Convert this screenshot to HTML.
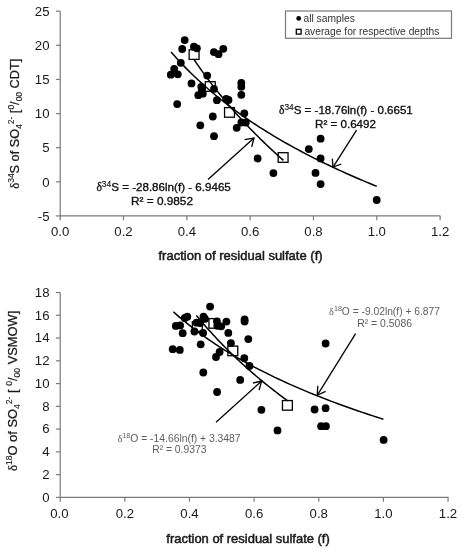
<!DOCTYPE html>
<html><head><meta charset="utf-8"><title>Sulfate isotope fractionation</title><style>
html,body{margin:0;padding:0;background:#fff;}
svg{display:block;}
text{font-family:"Liberation Sans",Arial,sans-serif;}
.tk{font-size:13.2px;fill:#1a1a1a;}
.ttl{font-size:12.6px;fill:#1a1a1a;stroke:#1a1a1a;stroke-width:0.5px;}
.yt{font-size:12.9px;fill:#1a1a1a;stroke:#1a1a1a;stroke-width:0.25px;}
.fit{fill:none;stroke:#000;stroke-width:1.5;}
.ar{fill:none;stroke:#000;stroke-width:1.3;}
.lg{font-size:10.25px;fill:#333;}
.eqt{font-size:11.5px;fill:#111;stroke:#111;stroke-width:0.35px;}
.eqb{font-size:10.35px;fill:#5e5e5e;}
.dl{font-family:"Liberation Serif",serif;}
</style></head><body>
<svg width="464" height="550" viewBox="0 0 464 550">
<rect width="464" height="550" fill="#fff"/>
<path d="M60.2,11.2 V215.9 H440.5" fill="none" stroke="#7a7a7a" stroke-width="1.2"/>
<path d="M55.9,11.20 H60.2" stroke="#7a7a7a" stroke-width="1.2"/>
<text x="49.5" y="15.95" text-anchor="end" class="tk">25</text>
<path d="M55.9,45.32 H60.2" stroke="#7a7a7a" stroke-width="1.2"/>
<text x="49.5" y="50.07" text-anchor="end" class="tk">20</text>
<path d="M55.9,79.44 H60.2" stroke="#7a7a7a" stroke-width="1.2"/>
<text x="49.5" y="84.19" text-anchor="end" class="tk">15</text>
<path d="M55.9,113.56 H60.2" stroke="#7a7a7a" stroke-width="1.2"/>
<text x="49.5" y="118.31" text-anchor="end" class="tk">10</text>
<path d="M55.9,147.68 H60.2" stroke="#7a7a7a" stroke-width="1.2"/>
<text x="49.5" y="152.43" text-anchor="end" class="tk">5</text>
<path d="M55.9,181.80 H60.2" stroke="#7a7a7a" stroke-width="1.2"/>
<text x="49.5" y="186.55" text-anchor="end" class="tk">0</text>
<path d="M55.9,215.92 H60.2" stroke="#7a7a7a" stroke-width="1.2"/>
<text x="49.5" y="220.67" text-anchor="end" class="tk">-5</text>
<path d="M60.20,215.9 V220.2" stroke="#7a7a7a" stroke-width="1.2"/>
<text x="60.20" y="236.2" text-anchor="middle" class="tk">0.0</text>
<path d="M123.52,215.9 V220.2" stroke="#7a7a7a" stroke-width="1.2"/>
<text x="123.52" y="236.2" text-anchor="middle" class="tk">0.2</text>
<path d="M186.84,215.9 V220.2" stroke="#7a7a7a" stroke-width="1.2"/>
<text x="186.84" y="236.2" text-anchor="middle" class="tk">0.4</text>
<path d="M250.16,215.9 V220.2" stroke="#7a7a7a" stroke-width="1.2"/>
<text x="250.16" y="236.2" text-anchor="middle" class="tk">0.6</text>
<path d="M313.48,215.9 V220.2" stroke="#7a7a7a" stroke-width="1.2"/>
<text x="313.48" y="236.2" text-anchor="middle" class="tk">0.8</text>
<path d="M376.80,215.9 V220.2" stroke="#7a7a7a" stroke-width="1.2"/>
<text x="376.80" y="236.2" text-anchor="middle" class="tk">1.0</text>
<path d="M440.12,215.9 V220.2" stroke="#7a7a7a" stroke-width="1.2"/>
<text x="440.12" y="236.2" text-anchor="middle" class="tk">1.2</text>
<path d="M60.2,292.5 V497.4 H448.6" fill="none" stroke="#7a7a7a" stroke-width="1.2"/>
<path d="M55.9,292.50 H60.2" stroke="#7a7a7a" stroke-width="1.2"/>
<text x="49.5" y="296.85" text-anchor="end" class="tk">18</text>
<path d="M55.9,315.27 H60.2" stroke="#7a7a7a" stroke-width="1.2"/>
<text x="49.5" y="319.62" text-anchor="end" class="tk">16</text>
<path d="M55.9,338.03 H60.2" stroke="#7a7a7a" stroke-width="1.2"/>
<text x="49.5" y="342.38" text-anchor="end" class="tk">14</text>
<path d="M55.9,360.80 H60.2" stroke="#7a7a7a" stroke-width="1.2"/>
<text x="49.5" y="365.15" text-anchor="end" class="tk">12</text>
<path d="M55.9,383.57 H60.2" stroke="#7a7a7a" stroke-width="1.2"/>
<text x="49.5" y="387.92" text-anchor="end" class="tk">10</text>
<path d="M55.9,406.33 H60.2" stroke="#7a7a7a" stroke-width="1.2"/>
<text x="49.5" y="410.69" text-anchor="end" class="tk">8</text>
<path d="M55.9,429.10 H60.2" stroke="#7a7a7a" stroke-width="1.2"/>
<text x="49.5" y="433.45" text-anchor="end" class="tk">6</text>
<path d="M55.9,451.87 H60.2" stroke="#7a7a7a" stroke-width="1.2"/>
<text x="49.5" y="456.22" text-anchor="end" class="tk">4</text>
<path d="M55.9,474.64 H60.2" stroke="#7a7a7a" stroke-width="1.2"/>
<text x="49.5" y="478.99" text-anchor="end" class="tk">2</text>
<path d="M55.9,497.40 H60.2" stroke="#7a7a7a" stroke-width="1.2"/>
<text x="49.5" y="501.75" text-anchor="end" class="tk">0</text>
<path d="M60.20,497.4 V501.7" stroke="#7a7a7a" stroke-width="1.2"/>
<text x="59.40" y="517.8" text-anchor="middle" class="tk">0.0</text>
<path d="M124.84,497.4 V501.7" stroke="#7a7a7a" stroke-width="1.2"/>
<text x="124.84" y="517.8" text-anchor="middle" class="tk">0.2</text>
<path d="M189.48,497.4 V501.7" stroke="#7a7a7a" stroke-width="1.2"/>
<text x="189.48" y="517.8" text-anchor="middle" class="tk">0.4</text>
<path d="M254.12,497.4 V501.7" stroke="#7a7a7a" stroke-width="1.2"/>
<text x="254.12" y="517.8" text-anchor="middle" class="tk">0.6</text>
<path d="M318.76,497.4 V501.7" stroke="#7a7a7a" stroke-width="1.2"/>
<text x="318.76" y="517.8" text-anchor="middle" class="tk">0.8</text>
<path d="M383.40,497.4 V501.7" stroke="#7a7a7a" stroke-width="1.2"/>
<text x="383.40" y="517.8" text-anchor="middle" class="tk">1.0</text>
<path d="M448.04,497.4 V501.7" stroke="#7a7a7a" stroke-width="1.2"/>
<text x="448.04" y="517.8" text-anchor="middle" class="tk">1.2</text>
<rect x="189.15" y="49.80" width="9.9" height="9.6" fill="#fff" stroke="#000" stroke-width="1.3"/>
<rect x="205.35" y="81.70" width="9.9" height="9.6" fill="#fff" stroke="#000" stroke-width="1.3"/>
<rect x="224.55" y="107.60" width="9.9" height="9.6" fill="#fff" stroke="#000" stroke-width="1.3"/>
<rect x="278.15" y="152.70" width="9.9" height="9.6" fill="#fff" stroke="#000" stroke-width="1.3"/>
<circle cx="184.7" cy="40.1" r="3.9"/>
<circle cx="182.2" cy="49.0" r="3.9"/>
<circle cx="193.9" cy="46.7" r="3.9"/>
<circle cx="196.9" cy="48.3" r="3.9"/>
<circle cx="213.9" cy="52.1" r="3.9"/>
<circle cx="218.5" cy="54.2" r="3.9"/>
<circle cx="223.3" cy="48.8" r="3.9"/>
<circle cx="180.8" cy="62.8" r="3.9"/>
<circle cx="174.2" cy="68.8" r="3.9"/>
<circle cx="170.8" cy="74.7" r="3.9"/>
<circle cx="177.8" cy="74.3" r="3.9"/>
<circle cx="207.2" cy="75.6" r="3.9"/>
<circle cx="191.5" cy="83.4" r="3.9"/>
<circle cx="201.3" cy="86.8" r="3.9"/>
<circle cx="201.8" cy="89.9" r="3.9"/>
<circle cx="198.3" cy="95.2" r="3.9"/>
<circle cx="202.8" cy="93.7" r="3.9"/>
<circle cx="214.0" cy="88.9" r="3.9"/>
<circle cx="216.9" cy="100.2" r="3.9"/>
<circle cx="226.2" cy="98.9" r="3.9"/>
<circle cx="228.5" cy="100.0" r="3.9"/>
<circle cx="177.2" cy="104.1" r="3.9"/>
<circle cx="241.3" cy="82.9" r="3.9"/>
<circle cx="241.3" cy="86.8" r="3.9"/>
<circle cx="241.3" cy="94.8" r="3.9"/>
<circle cx="244.3" cy="113.3" r="3.9"/>
<circle cx="241.4" cy="122.5" r="3.9"/>
<circle cx="245.8" cy="122.5" r="3.9"/>
<circle cx="236.7" cy="127.8" r="3.9"/>
<circle cx="212.8" cy="116.5" r="3.9"/>
<circle cx="200.3" cy="125.3" r="3.9"/>
<circle cx="214.0" cy="136.2" r="3.9"/>
<circle cx="257.6" cy="158.5" r="3.9"/>
<circle cx="273.4" cy="173.1" r="3.9"/>
<circle cx="320.6" cy="138.7" r="3.9"/>
<circle cx="308.8" cy="149.1" r="3.9"/>
<circle cx="320.6" cy="158.4" r="3.9"/>
<circle cx="315.5" cy="172.9" r="3.9"/>
<circle cx="320.6" cy="184.1" r="3.9"/>
<circle cx="376.7" cy="200.0" r="3.9"/>
<rect x="192.35" y="321.70" width="9.9" height="9.6" fill="#fff" stroke="#000" stroke-width="1.3"/>
<rect x="208.95" y="318.60" width="9.9" height="9.6" fill="#fff" stroke="#000" stroke-width="1.3"/>
<rect x="227.85" y="346.10" width="9.9" height="9.6" fill="#fff" stroke="#000" stroke-width="1.3"/>
<rect x="282.45" y="400.55" width="9.9" height="9.6" fill="#fff" stroke="#000" stroke-width="1.3"/>
<circle cx="210.1" cy="306.6" r="3.9"/>
<circle cx="184.8" cy="318.0" r="3.9"/>
<circle cx="187.3" cy="316.7" r="3.9"/>
<circle cx="175.8" cy="325.9" r="3.9"/>
<circle cx="180.1" cy="325.4" r="3.9"/>
<circle cx="182.7" cy="333.2" r="3.9"/>
<circle cx="196.6" cy="322.7" r="3.9"/>
<circle cx="200.1" cy="323.1" r="3.9"/>
<circle cx="203.5" cy="316.6" r="3.9"/>
<circle cx="205.0" cy="318.8" r="3.9"/>
<circle cx="194.4" cy="331.5" r="3.9"/>
<circle cx="203.1" cy="333.0" r="3.9"/>
<circle cx="200.7" cy="344.3" r="3.9"/>
<circle cx="216.9" cy="321.3" r="3.9"/>
<circle cx="217.3" cy="325.8" r="3.9"/>
<circle cx="221.2" cy="326.3" r="3.9"/>
<circle cx="226.4" cy="321.6" r="3.9"/>
<circle cx="228.3" cy="332.9" r="3.9"/>
<circle cx="230.9" cy="343.2" r="3.9"/>
<circle cx="244.6" cy="319.4" r="3.9"/>
<circle cx="244.6" cy="321.6" r="3.9"/>
<circle cx="248.3" cy="339.1" r="3.9"/>
<circle cx="172.7" cy="349.2" r="3.9"/>
<circle cx="179.8" cy="349.9" r="3.9"/>
<circle cx="219.6" cy="352.0" r="3.9"/>
<circle cx="216.0" cy="357.0" r="3.9"/>
<circle cx="244.3" cy="358.2" r="3.9"/>
<circle cx="249.5" cy="366.0" r="3.9"/>
<circle cx="240.2" cy="379.9" r="3.9"/>
<circle cx="203.3" cy="372.5" r="3.9"/>
<circle cx="217.1" cy="392.0" r="3.9"/>
<circle cx="261.4" cy="409.8" r="3.9"/>
<circle cx="277.5" cy="430.4" r="3.9"/>
<circle cx="325.6" cy="343.5" r="3.9"/>
<circle cx="314.6" cy="409.5" r="3.9"/>
<circle cx="325.6" cy="408.2" r="3.9"/>
<circle cx="321.1" cy="426.2" r="3.9"/>
<circle cx="325.9" cy="426.2" r="3.9"/>
<circle cx="383.6" cy="439.9" r="3.9"/>
<path d="M171.01,51.94 L174.44,55.84 L177.87,59.63 L181.30,63.31 L184.73,66.89 L188.16,70.36 L191.59,73.75 L195.02,77.05 L198.45,80.26 L201.88,83.40 L205.31,86.46 L208.74,89.45 L212.17,92.38 L215.60,95.23 L219.03,98.03 L222.46,100.76 L225.89,103.44 L229.32,106.07 L232.75,108.64 L236.18,111.16 L239.61,113.63 L243.04,116.05 L246.47,118.43 L249.90,120.77 L253.33,123.06 L256.76,125.31 L260.19,127.53 L263.62,129.70 L267.05,131.85 L270.48,133.95 L273.91,136.02 L277.33,138.06 L280.76,140.07 L284.19,142.04 L287.62,143.99 L291.05,145.90 L294.48,147.79 L297.91,149.65 L301.34,151.49 L304.77,153.29 L308.20,155.08 L311.63,156.84 L315.06,158.57 L318.49,160.28 L321.92,161.97 L325.35,163.64 L328.78,165.28 L332.21,166.91 L335.64,168.51 L339.07,170.09 L342.50,171.66 L345.93,173.21 L349.36,174.73 L352.79,176.24 L356.22,177.73 L359.65,179.21 L363.08,180.67 L366.51,182.11 L369.94,183.53 L373.37,184.94 L376.80,186.34" class="fit"/>
<path d="M194.28,59.99 L195.77,62.16 L197.25,64.31 L198.74,66.43 L200.23,68.54 L201.71,70.62 L203.20,72.67 L204.69,74.71 L206.17,76.73 L207.66,78.72 L209.14,80.70 L210.63,82.65 L212.12,84.59 L213.60,86.51 L215.09,88.41 L216.58,90.29 L218.06,92.15 L219.55,94.00 L221.04,95.82 L222.52,97.64 L224.01,99.43 L225.50,101.21 L226.98,102.97 L228.47,104.72 L229.95,106.45 L231.44,108.17 L232.93,109.87 L234.41,111.56 L235.90,113.23 L237.39,114.89 L238.87,116.54 L240.36,118.17 L241.85,119.79 L243.33,121.39 L244.82,122.98 L246.31,124.56 L247.79,126.13 L249.28,127.68 L250.76,129.23 L252.25,130.76 L253.74,132.28 L255.22,133.78 L256.71,135.28 L258.20,136.76 L259.68,138.23 L261.17,139.70 L262.66,141.15 L264.14,142.59 L265.63,144.02 L267.12,145.44 L268.60,146.85 L270.09,148.25 L271.57,149.64 L273.06,151.02 L274.55,152.39 L276.03,153.75 L277.52,155.10 L279.01,156.44 L280.49,157.78 L281.98,159.10 L283.47,160.42" class="fit"/>
<path d="M173.32,311.70 L176.82,314.83 L180.32,317.86 L183.82,320.80 L187.33,323.67 L190.83,326.45 L194.33,329.16 L197.83,331.80 L201.33,334.37 L204.83,336.89 L208.33,339.34 L211.83,341.73 L215.34,344.07 L218.84,346.36 L222.34,348.59 L225.84,350.78 L229.34,352.93 L232.84,355.03 L236.34,357.08 L239.85,359.10 L243.35,361.08 L246.85,363.02 L250.35,364.92 L253.85,366.79 L257.35,368.63 L260.85,370.43 L264.35,372.20 L267.86,373.95 L271.36,375.66 L274.86,377.35 L278.36,379.00 L281.86,380.63 L285.36,382.24 L288.86,383.82 L292.37,385.38 L295.87,386.91 L299.37,388.42 L302.87,389.91 L306.37,391.38 L309.87,392.83 L313.37,394.26 L316.87,395.66 L320.38,397.05 L323.88,398.42 L327.38,399.77 L330.88,401.11 L334.38,402.42 L337.88,403.72 L341.38,405.01 L344.89,406.28 L348.39,407.53 L351.89,408.77 L355.39,409.99 L358.89,411.20 L362.39,412.39 L365.89,413.57 L369.39,414.74 L372.90,415.89 L376.40,417.03 L379.90,418.16 L383.40,419.28" class="fit"/>
<path d="M196.33,315.36 L197.86,317.22 L199.38,319.05 L200.91,320.87 L202.43,322.66 L203.95,324.44 L205.48,326.19 L207.00,327.93 L208.53,329.65 L210.05,331.35 L211.58,333.04 L213.10,334.71 L214.62,336.36 L216.15,338.00 L217.67,339.62 L219.20,341.22 L220.72,342.81 L222.25,344.38 L223.77,345.94 L225.30,347.49 L226.82,349.02 L228.34,350.54 L229.87,352.04 L231.39,353.53 L232.92,355.00 L234.44,356.47 L235.97,357.92 L237.49,359.36 L239.02,360.78 L240.54,362.20 L242.06,363.60 L243.59,364.99 L245.11,366.37 L246.64,367.73 L248.16,369.09 L249.69,370.44 L251.21,371.77 L252.74,373.09 L254.26,374.41 L255.78,375.71 L257.31,377.00 L258.83,378.29 L260.36,379.56 L261.88,380.82 L263.41,382.08 L264.93,383.32 L266.46,384.56 L267.98,385.78 L269.50,387.00 L271.03,388.21 L272.55,389.41 L274.08,390.60 L275.60,391.78 L277.13,392.96 L278.65,394.12 L280.18,395.28 L281.70,396.43 L283.22,397.57 L284.75,398.71 L286.27,399.84 L287.80,400.96" class="fit"/>
<path d="M208,179.5 L254,138" class="ar"/><path d="M244.6,139.7 L254,138 L251.7,146.8" class="ar"/>
<path d="M356.6,130.1 L333,167.1" class="ar"/><path d="M332.3,158.8 L333,167.1 L341.3,164" class="ar"/>
<path d="M216,422.2 L261.7,381" class="ar"/><path d="M253,383 L261.7,381 L259.1,390" class="ar"/>
<path d="M355.6,333.6 L317.2,395.3" class="ar"/><path d="M317.8,385.8 L317.2,395.3 L325.6,391.4" class="ar"/>
<rect x="285.5" y="11" width="166" height="27.3" fill="#fff" stroke="#7a7a7a" stroke-width="1.2"/>
<circle cx="298.7" cy="18.4" r="2.4"/>
<rect x="296.3" y="29.3" width="4.8" height="4.8" fill="#fff" stroke="#000" stroke-width="1.3"/>
<text x="158.50" y="260.0" class="ttl" textLength="164.10" lengthAdjust="spacingAndGlyphs">fraction of residual sulfate (f)</text>
<text x="166.30" y="542.5" class="ttl" textLength="163.50" lengthAdjust="spacingAndGlyphs">fraction of residual sulfate (f)</text>
<text x="303.50" y="22.0" class="lg">all samples</text>
<text x="304.40" y="34.6" class="lg">average for respective depths</text>
<text x="279.00" y="114.3" class="eqt" textLength="133.80" lengthAdjust="spacingAndGlyphs"><tspan class="dl">δ</tspan><tspan font-size="8.3" dy="-4" style="stroke-width:0.15px">34</tspan><tspan dy="4">S = -18.76ln(f) - 0.6651</tspan></text>
<text x="315.00" y="128.2" class="eqt" textLength="61.00" lengthAdjust="spacingAndGlyphs">R² = 0.6492</text>
<text x="96.40" y="190.9" class="eqt" textLength="134.40" lengthAdjust="spacingAndGlyphs"><tspan class="dl">δ</tspan><tspan font-size="8.3" dy="-4" style="stroke-width:0.15px">34</tspan><tspan dy="4">S = -28.86ln(f) - 6.9465</tspan></text>
<text x="131.00" y="204.6" class="eqt" textLength="62.00" lengthAdjust="spacingAndGlyphs">R² = 0.9852</text>
<text x="329.10" y="314.6" class="eqb" textLength="110.80" lengthAdjust="spacingAndGlyphs"><tspan class="dl">δ</tspan><tspan font-size="7.2" dy="-3.5">18</tspan><tspan dy="3.5">O = -9.02ln(f) + 6.877</tspan></text>
<text x="357.20" y="326.6" class="eqb" textLength="54.80" lengthAdjust="spacingAndGlyphs">R² = 0.5086</text>
<text x="117.40" y="441.9" class="eqb" textLength="123.20" lengthAdjust="spacingAndGlyphs"><tspan class="dl">δ</tspan><tspan font-size="7.2" dy="-3.5">18</tspan><tspan dy="3.5">O = -14.66ln(f) + 3.3487</tspan></text>
<text x="152.20" y="452.9" class="eqb" textLength="54.20" lengthAdjust="spacingAndGlyphs">R² = 0.9373</text>
<g transform="translate(18.8,123.8) rotate(-90) scale(1,1.06)"><text x="0" y="0" text-anchor="middle" class="yt" style="font-size:12.7px"><tspan class="dl">δ</tspan><tspan font-size="8.5" stroke-width="0.1" dy="-4.5">34</tspan><tspan dy="4.5">S of SO</tspan><tspan font-size="8.5" stroke-width="0.1" dy="3">4</tspan><tspan font-size="8.5" stroke-width="0.1" dy="-7.5">2-</tspan><tspan dy="4.5"> [</tspan><tspan font-size="8.5" stroke-width="0.1" dy="-4.5">0</tspan><tspan dy="4.5">/</tspan><tspan font-size="8.5" stroke-width="0.1" dy="3">00</tspan><tspan dy="-3"> CDT]</tspan></text></g>
<g transform="translate(16.9,390.9) rotate(-90) scale(1,1.04)"><text x="0" y="0" text-anchor="middle" class="yt" style="font-size:12.88px"><tspan class="dl">δ</tspan><tspan font-size="8.6" stroke-width="0.1" dy="-4.6">18</tspan><tspan dy="4.6">O of SO</tspan><tspan font-size="8.6" stroke-width="0.1" dy="3">4</tspan><tspan font-size="8.6" stroke-width="0.1" dy="-7.6">2-</tspan><tspan dy="4.6"> [ </tspan><tspan font-size="8.6" stroke-width="0.1" dy="-4.6">0</tspan><tspan dy="4.6">/</tspan><tspan font-size="8.6" stroke-width="0.1" dy="3">00</tspan><tspan dy="-3"> VSMOW]</tspan></text></g>

</svg>
</body></html>
